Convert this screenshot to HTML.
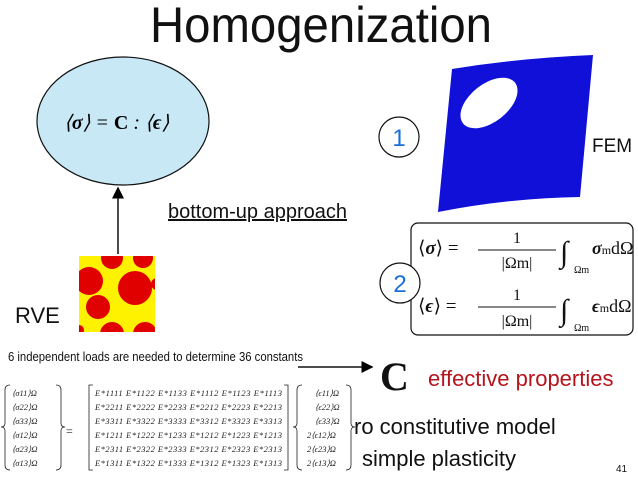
<!DOCTYPE html>
<html><head><meta charset="utf-8"><style>
html,body{margin:0;padding:0;background:#fff;}
svg{display:block;font-family:"Liberation Sans",sans-serif;}
.s{font-family:"Liberation Serif",serif;}
</style></head><body>
<svg width="638" height="479" viewBox="0 0 638 479" xmlns="http://www.w3.org/2000/svg">
<defs>
<clipPath id="rv"><rect x="79" y="256" width="76" height="76"/></clipPath>
<marker id="ah" markerWidth="8" markerHeight="8" refX="7" refY="4" orient="auto"><path d="M0,0 L8,4 L0,8 Z" fill="#000"/></marker>
</defs>
<text x="150" y="42" font-size="50" textLength="342" lengthAdjust="spacingAndGlyphs" fill="#111">Homogenization</text>

<ellipse cx="123" cy="121" rx="86" ry="64" fill="#c8e8f6" stroke="#111" stroke-width="1.2"/>
<text class="s" x="64" y="129" font-size="20" font-style="italic">⟨<tspan font-weight="bold">σ</tspan>⟩ = <tspan font-style="normal" font-weight="bold">C</tspan> : ⟨<tspan font-weight="bold">ϵ</tspan>⟩</text>
<line x1="118" y1="254" x2="118" y2="188" stroke="#111" stroke-width="1.5" marker-end="url(#ah)"/>

<rect x="79" y="256" width="76" height="76" fill="#fff200"/>
<g clip-path="url(#rv)" fill="#e00000">
<circle cx="112" cy="258" r="11"/><circle cx="143" cy="258" r="10"/>
<circle cx="89" cy="281" r="14"/><circle cx="135" cy="288" r="17"/><circle cx="157" cy="284" r="6"/>
<circle cx="98" cy="307" r="12"/><circle cx="112" cy="334" r="12"/><circle cx="145" cy="334" r="12"/>
<circle cx="79" cy="330" r="5"/>
</g>
<text x="15" y="323" font-size="22" fill="#111">RVE</text>

<text x="168" y="218" font-size="20" fill="#111" text-decoration="underline">bottom-up approach</text>

<path d="M452,69 Q520,58 593,55 L580,197 Q510,198 438,212 Z" fill="#1010d8"/>
<ellipse cx="489" cy="103" rx="33" ry="19" transform="rotate(-38 489 103)" fill="#fff"/>
<circle cx="399" cy="137" r="20" fill="#fff" stroke="#111" stroke-width="1.2"/>
<text x="399" y="146" font-size="24" fill="#1a6fd8" text-anchor="middle">1</text>
<text x="592" y="152" font-size="19" fill="#111">FEM</text>

<rect x="411" y="223" width="222" height="112" rx="7" fill="#fff" stroke="#111" stroke-width="1.2"/>
<circle cx="400" cy="283" r="20" fill="#fff" stroke="#111" stroke-width="1.2"/>
<text x="400" y="292" font-size="24" fill="#1a6fd8" text-anchor="middle">2</text>
<g class="s" fill="#111">
<text x="418" y="254" font-size="19">⟨<tspan font-weight="bold" font-style="italic">σ</tspan>⟩ =</text>
<text x="517" y="243" font-size="16" text-anchor="middle">1</text>
<line x1="478" y1="250" x2="556" y2="250" stroke="#111" stroke-width="1"/>
<text x="517" y="268" font-size="16" text-anchor="middle">|Ωm|</text>
<text x="560" y="262" font-size="30" font-style="italic">∫</text>
<text x="574" y="273" font-size="10">Ωm</text>
<text x="592" y="254" font-size="18"><tspan font-weight="bold" font-style="italic">σ</tspan><tspan font-size="12">m</tspan>dΩ</text>
<text x="418" y="312" font-size="19">⟨<tspan font-weight="bold" font-style="italic">ϵ</tspan>⟩ =</text>
<text x="517" y="300" font-size="16" text-anchor="middle">1</text>
<line x1="478" y1="307" x2="556" y2="307" stroke="#111" stroke-width="1"/>
<text x="517" y="326" font-size="16" text-anchor="middle">|Ωm|</text>
<text x="560" y="320" font-size="30" font-style="italic">∫</text>
<text x="574" y="331" font-size="10">Ωm</text>
<text x="592" y="312" font-size="18"><tspan font-weight="bold" font-style="italic">ϵ</tspan><tspan font-size="12">m</tspan>dΩ</text>
</g>

<text x="8" y="361" font-size="12.5" fill="#111" textLength="295" lengthAdjust="spacingAndGlyphs">6 independent loads are needed to determine 36 constants</text>
<line x1="298" y1="367" x2="372" y2="367" stroke="#111" stroke-width="1.5" marker-end="url(#ah)"/>
<text class="s" x="380" y="390" font-size="40" font-weight="bold" fill="#111">C</text>
<text x="428" y="386" font-size="22" fill="#b5141c">effective properties</text>

<g class="s" font-size="8.5" fill="#222" font-style="italic">
<text x="12" y="396">⟨σ11⟩Ω</text><text x="12" y="410">⟨σ22⟩Ω</text><text x="12" y="424">⟨σ33⟩Ω</text>
<text x="12" y="438">⟨σ12⟩Ω</text><text x="12" y="452">⟨σ23⟩Ω</text><text x="12" y="466">⟨σ13⟩Ω</text>
<text x="66" y="435" font-size="12" font-style="normal">=</text>
<path d="M93,385 h-4 v85 h4 M284,385 h4 v85 h-4" fill="none" stroke="#222" stroke-width="0.8"/>
<text x="95" y="396" textLength="187">E*1111 E*1122 E*1133 E*1112 E*1123 E*1113</text>
<text x="95" y="410" textLength="187">E*2211 E*2222 E*2233 E*2212 E*2223 E*2213</text>
<text x="95" y="424" textLength="187">E*3311 E*3322 E*3333 E*3312 E*3323 E*3313</text>
<text x="95" y="438" textLength="187">E*1211 E*1222 E*1233 E*1212 E*1223 E*1213</text>
<text x="95" y="452" textLength="187">E*2311 E*2322 E*2333 E*2312 E*2323 E*2313</text>
<text x="95" y="466" textLength="187">E*1311 E*1322 E*1333 E*1312 E*1323 E*1313</text>
<path d="M302,385 q-5,0 -5,5 v33 q0,4 -4,4 q4,0 4,4 v34 q0,5 5,5 M56,385 q5,0 5,5 v33 q0,4 4,4 q-4,0 -4,4 v34 q0,5 -5,5" fill="none" stroke="#222" stroke-width="0.8"/>
<path d="M346,385 q5,0 5,5 v33 q0,4 4,4 q-4,0 -4,4 v34 q0,5 -5,5" fill="none" stroke="#222" stroke-width="0.8"/>
<path d="M10,385 q-5,0 -5,5 v33 q0,4 -4,4 q4,0 4,4 v34 q0,5 5,5" fill="none" stroke="#222" stroke-width="0.8"/>
<text x="315" y="396">⟨ϵ11⟩Ω</text><text x="315" y="410">⟨ϵ22⟩Ω</text><text x="315" y="424">⟨ϵ33⟩Ω</text>
<text x="307" y="438">2⟨ϵ12⟩Ω</text><text x="307" y="452">2⟨ϵ23⟩Ω</text><text x="307" y="466">2⟨ϵ13⟩Ω</text>
</g>
<text x="354" y="434" font-size="22" fill="#111">ro constitutive model</text>
<text x="362" y="466" font-size="22" fill="#111">simple plasticity</text>
<text x="616" y="472" font-size="10" fill="#111">41</text>
</svg>
</body></html>
